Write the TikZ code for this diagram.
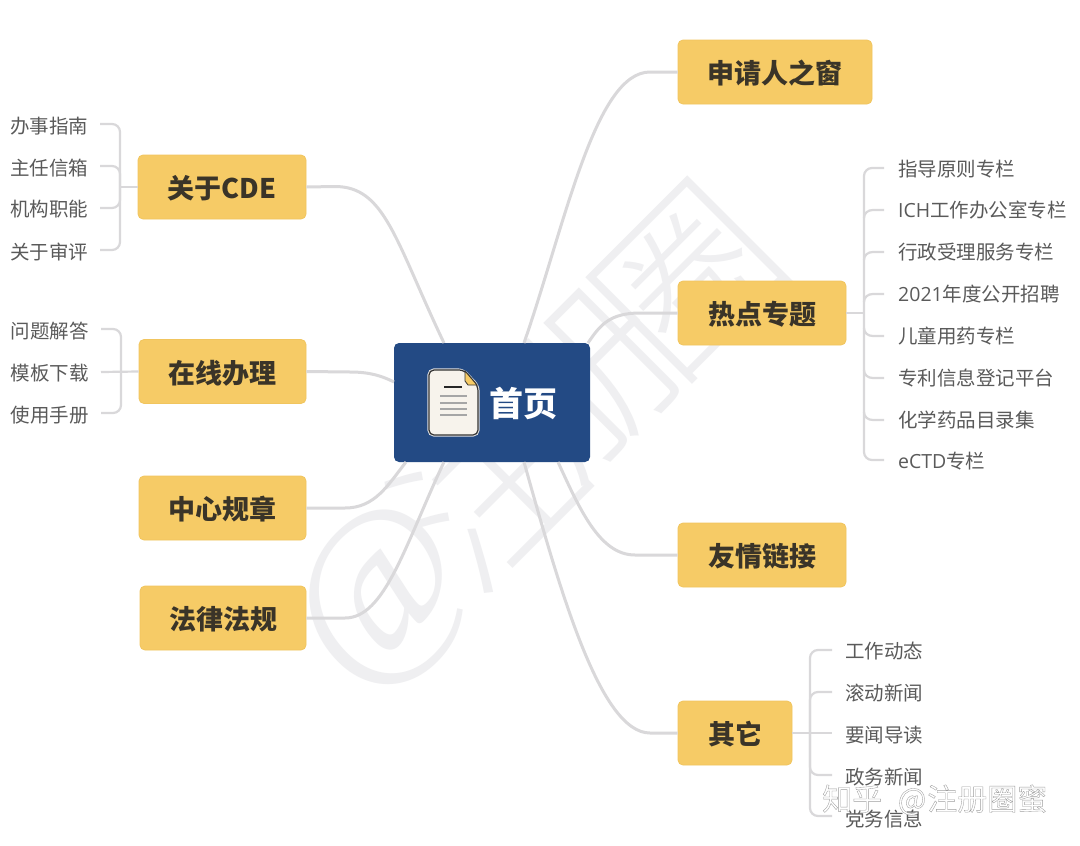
\documentclass[tikz,border=0pt]{standalone}
\usepackage{fontspec}
\setmainfont{Noto Sans CJK SC}
\newfontfamily\wmlatin{Liberation Serif}
\newfontfamily\wmcjk{Noto Sans CJK SC Light}
\newfontfamily\latinpart{Open Sans}
\definecolor{boxfill}{HTML}{F6CB66}
\definecolor{boxedge}{HTML}{F1C55E}
\definecolor{navy}{HTML}{234A84}
\definecolor{linkgray}{HTML}{D9D8DA}
\definecolor{leafgray}{HTML}{5A5A5A}
\definecolor{darktext}{HTML}{3A3428}
\definecolor{wmgray}{HTML}{EFEFF1}
\definecolor{paper}{HTML}{F7F3EC}
\tikzset{
  x=1pt,y=-1pt,
  topic/.style={draw=boxedge,line width=0.8pt,fill=boxfill,rounded corners=5pt,inner sep=0pt,
    minimum height=64pt,text height=30pt,text depth=6.4pt,text=darktext,font=\fontsize{27}{27}\selectfont\bfseries},
  leaf/.style={text=leafgray,font=\fontsize{19.5}{20}\selectfont,inner sep=0pt,anchor=west},
  mainlink/.style={draw=linkgray,line width=3pt},
  bracket/.style={draw=linkgray,line width=2.2pt,rounded corners=8pt},
  stem/.style={draw=linkgray,line width=2.2pt},
  wm/.style={text=wmgray,inner sep=0pt,rotate=45}
}
\begin{document}
\begin{tikzpicture}
\useasboundingbox (0,0) rectangle (1080,846);
\fill[white] (0,0) rectangle (1080,846);
% watermark
\node[wm,font=\wmlatin\fontsize{190}{190}\selectfont] (wa) at (385,600) {@};
\node[wm,font=\wmcjk\fontsize{175}{175}\selectfont] (wb) at (485,490) {注};
\node[wm,font=\wmcjk\fontsize{175}{175}\selectfont] (wc) at (590,382) {册};
\node[wm,font=\wmcjk\fontsize{175}{175}\selectfont] (wd) at (690,280) {圈};
% nodes
\node[fill=navy,rounded corners=5pt,minimum width=196pt,minimum height=119pt,inner sep=0pt] (home) at (492,402.5) {};
\node[topic,minimum width=194pt] (t1) at (775,72) {申请人之窗};
\node[topic,minimum width=168pt] (t2) at (762,313) {热点专题};
\node[topic,minimum width=168pt] (t3) at (762,555) {友情链接};
\node[topic,minimum width=114pt] (t4) at (735,733) {其它};
\node[topic,minimum width=168pt] (l1) at (222,187) {关于CDE};
\node[topic,minimum width=167pt] (l2) at (222.5,371.5) {在线办理};
\node[topic,minimum width=167pt] (l3) at (222.5,508) {中心规章};
\node[topic,minimum width=166pt] (l4) at (223,618) {法律法规};
\node[text=white,inner sep=0pt,font=\fontsize{34}{34}\selectfont\bfseries] (hometext) at (523,403) {首页};
% connector anchors on the home box
\coordinate (ha) at (444,343);
\coordinate (hb) at (394,382);
\coordinate (hc) at (406,462);
\coordinate (hd) at (444,462);
\coordinate (he) at (524,343);
\coordinate (hf) at (588,343);
\coordinate (hg) at (558,462);
\coordinate (hh) at (524,462);
\draw[mainlink] (l1.east) -- (335,186.5) .. controls (385,186.5) and (395,240) .. (ha);
\draw[mainlink] (l2.east) -- (350,372) .. controls (370,372) and (382,376) .. (hb);
\draw[mainlink] (l3.east) -- (345,508) .. controls (375,508) and (388,485) .. (hc);
\draw[mainlink] (l4.east) -- (345,618) .. controls (385,618) and (405,545) .. (hd);
\draw[mainlink] (t1.west) -- (650,72) .. controls (595,72) and (565,225) .. (he);
\draw[mainlink] (t2.west) -- (640,313) .. controls (610,313) and (600,325) .. (hf);
\draw[mainlink] (t3.west) -- (635,555) .. controls (600,555) and (580,510) .. (hg);
\draw[mainlink] (t4.west) -- (650,733) .. controls (600,733) and (560,590) .. (hh);
% document icon
\draw[draw=white!75!gray,line width=3.2pt,fill=white!75!gray,rounded corners=5pt] (429,370) -- (463,370) -- (478,386) -- (478,435) -- (429,435) -- cycle;
\draw[draw=black!80,line width=1.2pt,fill=paper,rounded corners=5pt] (429,370) -- (464,370) -- (478,386) -- (478,435) -- (429,435) -- cycle;
\fill[boxfill,draw=black!80,line width=0.8pt] (465,371) -- (477,385) -- (468,385) -- (465,381) -- cycle;
\draw[black!85,line width=1.4pt] (444,387) -- (462,387);
\foreach \yy in {396,403,409,415}{\draw[gray!70,line width=1.6pt] (440,\yy) -- (467,\yy);}
% branches: left
\draw[bracket] (100,124) -- (120,124) -- (120,250) -- (100,250);
\draw[bracket] (100,166) -- (120,166) -- (120,208) -- (100,208);
\draw[stem] (120,187) -- (l1.west);
\draw[bracket] (101,329) -- (121,329) -- (121,413) -- (101,413);
\draw[stem] (101,372) -- (l2.west);
% branches: right
\draw[bracket] (884,168) -- (864,168) -- (864,460) -- (884,460);
\foreach \yy in {210,252,294}{\draw[stem] (884,\yy) -- (873,\yy) .. controls (868,\yy) and (864,\yy+3) .. (864,\yy+8);}
\foreach \yy in {336,378,420}{\draw[stem] (884,\yy) -- (873,\yy) .. controls (868,\yy) and (864,\yy-3) .. (864,\yy-8);}
\draw[stem] (t2.east) -- (864,313);
\draw[bracket] (832,650) -- (810,650) -- (810,816) -- (832,816);
\draw[bracket] (832,692) -- (810,692) -- (810,775) -- (832,775);
\draw[stem] (t4.east) -- (832,733);
% leaves
\node[leaf] (a1) at (10,126) {办事指南};
\node[leaf] (a2) at (10,168) {主任信箱};
\node[leaf] (a3) at (10,209.5) {机构职能};
\node[leaf] (a4) at (10,252) {关于审评};
\node[leaf] (b1) at (10.5,331.5) {问题解答};
\node[leaf] (b2) at (10.5,373.5) {模板下载};
\node[leaf] (b3) at (10.5,415) {使用手册};
\node[leaf] (c1) at (898,169) {指导原则专栏};
\node[leaf] (c2) at (898,210.5) {{\latinpart ICH}工作办公室专栏};
\node[leaf] (c3) at (898,252.5) {行政受理服务专栏};
\node[leaf] (c4) at (898,294.5) {{\latinpart 2021}年度公开招聘};
\node[leaf] (c5) at (898,336.5) {儿童用药专栏};
\node[leaf] (c6) at (898,378.5) {专利信息登记平台};
\node[leaf] (c7) at (898,420.5) {化学药品目录集};
\node[leaf] (c8) at (898,461.5) {{\latinpart eCTD}专栏};
\node[leaf] (d1) at (845,651) {工作动态};
\node[leaf] (d2) at (845,693) {滚动新闻};
\node[leaf] (d3) at (845,735) {要闻导读};
\node[leaf] (d4) at (845,777) {政务新闻};
\node[leaf] (d5) at (845,819) {党务信息};
% bottom watermark: white glyphs with a thin grey edge
\node[text=white,inner sep=0pt,anchor=west,font=\fontsize{30}{30}\selectfont] (zh) at (822,800) {\special{pdf:literal direct 2 Tr 0.35 w 0.62 G}知乎\hspace{9pt} @\hspace{1pt}注册圈蜜\special{pdf:literal direct 0 Tr}};
\end{tikzpicture}
\end{document}
